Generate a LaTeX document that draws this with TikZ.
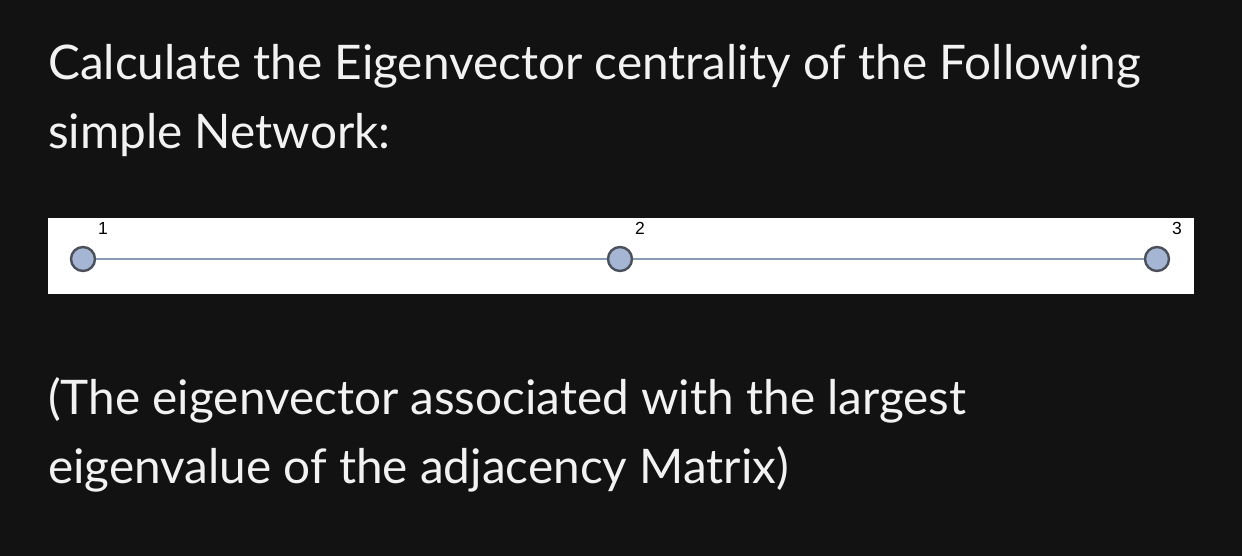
\documentclass[tikz,border=0pt]{standalone}
\usepackage{fontspec}
\setmainfont{Lato}
\newfontfamily\lblfont{Liberation Sans}
\usetikzlibrary{positioning,calc}

\definecolor{bgdark}{HTML}{121212}
\definecolor{txtwhite}{HTML}{F2F2F2}
\definecolor{vfill}{HTML}{A4B6D4}
\definecolor{vdraw}{HTML}{4B505A}
\definecolor{edgeblue}{HTML}{8A9BB4}

\begin{document}
\begin{tikzpicture}[x=1pt,y=1pt]
    \tikzstyle{line}=[anchor=base west,inner sep=0,text=txtwhite,font=\fontsize{47.7}{57}\selectfont]
    \tikzstyle{vertex}=[circle,fill=vfill,draw=vdraw,line width=2.4,minimum size=24,inner sep=0]
    \tikzstyle{lbl}=[inner sep=0,font=\lblfont\fontsize{17.5}{20}\selectfont]
    \tikzstyle{link}=[draw=edgeblue,line width=1.6]

    \fill[bgdark] (0,0) rectangle (1242,556);
    \useasboundingbox (0,0) rectangle (1242,556);

    % question text
    \node[line] (q1) at (48,476) {Calculate the Eigenvector centrality of the Following};
    \node[line] (q2) at (48,407) {simple Network:};
    \node[line] (q3) at (48,141) {(The eigenvector associated with the largest};
    \node[line] (q4) at (48,72) {eigenvalue of the adjacency Matrix)};

    % the network
    \fill[white] (48,262) rectangle (1194,338);
    \node[vertex] (v1) at (83,297) {};
    \node[vertex] (v2) at (620,297) {};
    \node[vertex] (v3) at (1157,297) {};
    \path[link] (v1) -- (v2) (v2) -- (v3);
    \node[lbl] (l1) at ($(v1)+(20,31)$) {1};
    \node[lbl] (l2) at ($(v2)+(20,31)$) {2};
    \node[lbl] (l3) at ($(v3)+(20,31)$) {3};
\end{tikzpicture}
\end{document}
